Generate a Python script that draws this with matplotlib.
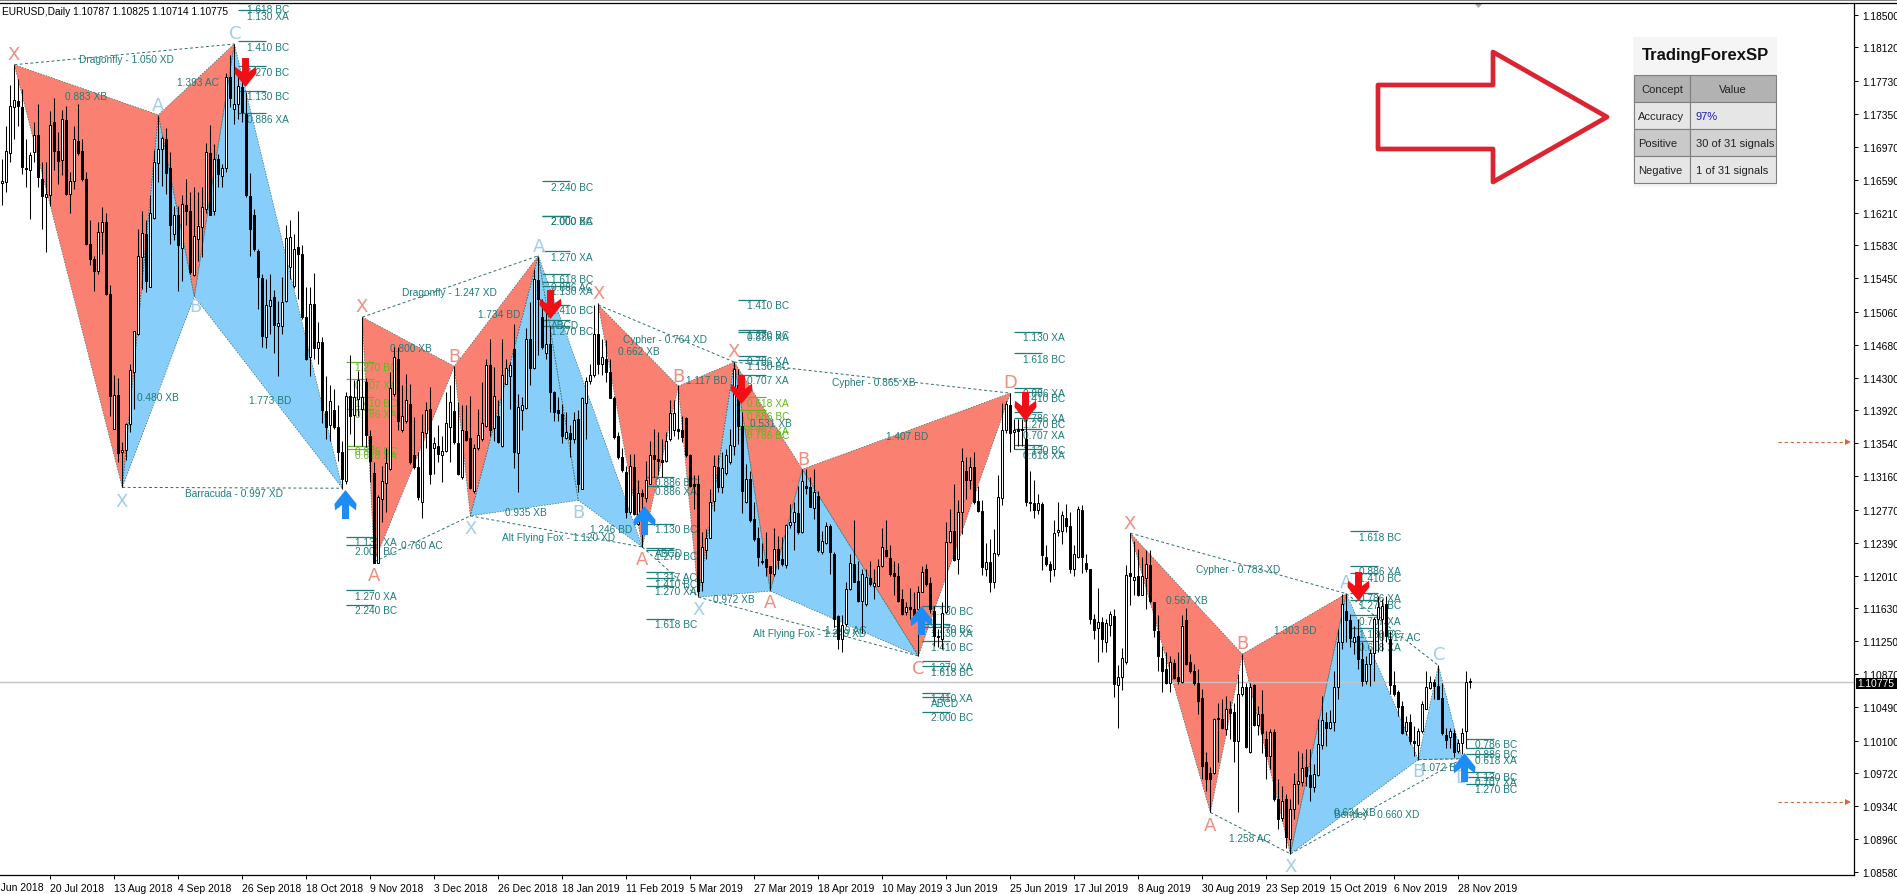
import matplotlib
matplotlib.use("Agg")
import matplotlib.pyplot as plt
from matplotlib.lines import Line2D
from matplotlib.patches import Polygon, Rectangle
from matplotlib.path import Path
from matplotlib.transforms import Affine2D

# ---------- candle values, in pips (price x 10000), one entry per daily bar ----------
open_pips = [
 11655,11656,11690,11743,11750,11743,11672,11670,11691,11711,11660,11639,11641,11726,11692,11682,11728,11643,11657,11704,11692,11660,11585,11567,11553,11598,11610,11527,11371,11410,11344,11346,11376,11437,11480,11570,11596,11535,11615,11678,11694,11706,11672,11596,11618,11580,11630,11623,11549,11590,11604,11625,11690,11623,11683,11663,11672,11778,11741,11747,11766,11735,
 11640,11618,11577,11545,11477,11513,11523,11490,11490,11519,11558,11536,11581,11573,11500,11454,11515,11464,11471,11391,11375,11392,11373,11344,11310,11409,11387,11405,11394,11425,11363,11320,11216,11289,11308,11324,11411,11452,11369,11380,11400,11340,11326,11286,11366,11394,11349,11351,11341,11345,11373,11391,11354,11315,11368,11360,11299,11348,
 11359,11374,11445,11372,11386,11351,11423,11432,11463,11343,11392,11395,11475,11441,11543,11500,11458,11469,11413,11393,11388,11360,11366,11359,11382,11301,11401,11426,11433,11480,11446,11452,11436,11406,11363,11338,11321,11274,11326,11261,11296,11291,11307,11340,11336,11335,11334,11359,11369,11371,11369,11383,11340,11307,11307,11193,11231,11244,11287,11327,
 11303,11320,11332,11351,11421,11374,11286,11313,11266,11244,11218,11220,11212,11203,11232,11220,11213,11260,11263,11273,11251,11305,11303,11279,11293,11228,11239,11258,11226,11154,11128,11145,11185,11214,11195,11171,11168,11198,11189,11189,11212,11231,11221,11204,11201,11174,11159,11165,11162,11162,11182,11209,11192,11160,11131,11128,11159,11240,11252,11220,
 11275,11322,11311,11326,11287,11276,11209,11217,11193,11226,11291,11369,11398,11367,11370,11371,11359,11286,11285,11277,11284,11222,11214,11208,11251,11253,11268,11258,11209,11223,11277,11215,11209,11151,11140,11147,11124,11144,11154,11074,11084,11101,11204,11196,11200,11179,11198,11213,11170,11137,11106,11093,11077,11100,11084,11078,11150,11101,11091,11077,
 11059,10985,10973,10972,11036,11035,11023,11047,11043,11010,11064,11072,10997,11074,11028,11041,11012,10992,11020,10942,10920,10942,10896,10931,10960,10962,10980,10970,10956,10970,11005,11031,11025,11032,11072,11124,11160,11149,11124,11131,11104,11079,11099,11111,11151,11151,11168,11127,11074,11066,11050,11021,11032,11009,11005,11021,11046,11071,11078,11073,11059,11016,11014,11019,10998,11007,11021,11079]
high_pips = [
 11683,11721,11769,11792,11775,11764,11706,11691,11726,11746,11679,11679,11739,11753,11714,11740,11744,11668,11721,11747,11706,11668,11612,11571,11610,11627,11620,11537,11433,11429,11355,11377,11446,11484,11602,11623,11612,11641,11693,11733,11710,11719,11691,11629,11629,11641,11660,11645,11650,11645,11650,11702,11722,11700,11689,11677,11783,11803,11816,11783,11785,11760,
 11667,11625,11579,11550,11544,11550,11531,11519,11546,11606,11612,11596,11623,11583,11535,11535,11551,11494,11477,11432,11421,11417,11398,11357,11413,11456,11427,11438,11500,11429,11369,11332,11294,11328,11348,11436,11465,11465,11421,11434,11423,11384,11344,11388,11402,11419,11361,11375,11363,11413,11421,11444,11402,11398,11398,11409,11353,11394,
 11425,11452,11475,11442,11404,11475,11452,11448,11492,11411,11408,11487,11517,11556,11570,11521,11508,11490,11414,11407,11400,11390,11375,11390,11392,11408,11431,11446,11514,11516,11475,11473,11452,11409,11367,11348,11328,11342,11342,11311,11301,11334,11357,11371,11367,11359,11367,11404,11404,11421,11386,11384,11342,11317,11317,11251,11255,11301,11340,11340,
 11344,11347,11371,11448,11440,11390,11330,11322,11286,11257,11239,11251,11212,11256,11247,11245,11261,11284,11286,11305,11324,11324,11315,11324,11299,11253,11263,11261,11228,11155,11155,11193,11226,11265,11218,11209,11209,11218,11209,11220,11256,11265,11236,11218,11216,11185,11170,11187,11182,11189,11212,11214,11199,11166,11139,11170,11263,11278,11307,11288,
 11349,11338,11338,11344,11305,11288,11239,11243,11255,11317,11401,11403,11412,11382,11382,11382,11382,11322,11312,11295,11286,11236,11218,11265,11286,11276,11284,11274,11236,11282,11283,11226,11209,11157,11187,11153,11151,11160,11162,11097,11117,11213,11250,11241,11232,11222,11230,11230,11170,11155,11120,11113,11108,11104,11113,11155,11164,11110,11099,11093,
 11070,10997,10979,11036,11054,11058,11062,11056,11054,11087,11110,11077,11077,11075,11050,11068,11021,11023,11023,10965,10958,10948,10942,10973,10998,10996,11000,11000,10983,11035,11062,11043,11045,11091,11139,11180,11180,11156,11143,11151,11124,11108,11116,11153,11177,11174,11177,11137,11091,11068,11056,11039,11041,11027,11025,11056,11090,11085,11081,11097,11077,11025,11025,11024,11012,11025,11090,11083]
low_pips = [
 11630,11645,11680,11706,11721,11665,11650,11613,11679,11650,11602,11575,11629,11670,11654,11664,11641,11620,11648,11687,11658,11583,11560,11530,11550,11573,11526,11386,11370,11332,11303,11335,11367,11394,11479,11533,11529,11535,11614,11656,11652,11643,11585,11589,11530,11542,11606,11550,11548,11565,11569,11621,11618,11618,11650,11650,11668,11743,11724,11729,11726,11639,
 11571,11577,11509,11465,11464,11481,11459,11432,11481,11517,11544,11534,11521,11498,11450,11432,11452,11446,11378,11359,11357,11371,11334,11301,11307,11365,11351,11386,11351,11350,11309,11216,11216,11263,11274,11323,11409,11369,11367,11378,11330,11324,11288,11267,11348,11307,11319,11332,11309,11344,11332,11353,11317,11313,11357,11301,11296,11346,
 11357,11373,11363,11357,11354,11350,11423,11394,11325,11298,11369,11394,11421,11440,11456,11463,11452,11390,11380,11380,11354,11359,11338,11354,11298,11301,11359,11423,11431,11434,11433,11425,11406,11359,11336,11321,11267,11272,11271,11259,11234,11286,11307,11315,11317,11315,11332,11357,11363,11359,11355,11338,11303,11278,11177,11183,11220,11244,11276,11298,
 11297,11317,11330,11340,11353,11273,11285,11263,11241,11212,11214,11201,11184,11201,11209,11212,11210,11256,11230,11249,11250,11295,11280,11266,11228,11226,11238,11203,11141,11116,11112,11143,11184,11193,11170,11135,11166,11189,11174,11189,11211,11222,11201,11178,11170,11155,11155,11151,11147,11108,11182,11189,11158,11120,11118,11116,11158,11239,11218,11203,
 11249,11289,11301,11284,11274,11202,11201,11182,11187,11224,11283,11366,11344,11347,11351,11351,11281,11276,11268,11272,11207,11212,11193,11201,11247,11238,11251,11204,11200,11221,11204,11205,11145,11127,11101,11112,11112,11131,11060,11025,11069,11099,11167,11178,11177,11178,11162,11169,11130,11091,11066,11076,11066,11081,11076,11077,11097,11088,11074,11041,
 10966,10952,10927,10971,10985,11023,11016,11012,10985,10927,11062,11002,10996,11027,11016,10996,10965,10977,10940,10908,10917,10886,10879,10919,10937,10958,10958,10940,10950,10969,11000,11004,11023,11021,11058,11116,11124,11118,11110,11093,11073,11075,11073,11079,11112,11114,11124,11064,11062,11039,11018,11016,11006,10992,10988,11019,11046,11070,11058,11058,11016,11002,11002,10991,10996,10994,11002,11071]
close_pips = [
 11657,11692,11744,11751,11744,11674,11671,11687,11711,11662,11640,11643,11722,11692,11681,11729,11643,11658,11706,11690,11660,11585,11567,11553,11599,11610,11527,11409,11410,11343,11346,11376,11439,11484,11571,11597,11542,11621,11679,11695,11707,11667,11606,11618,11583,11631,11623,11552,11594,11605,11627,11691,11618,11683,11666,11673,11778,11753,11747,11767,11737,11641,
 11602,11579,11546,11478,11514,11520,11491,11493,11518,11592,11593,11579,11573,11500,11451,11515,11464,11471,11392,11373,11403,11373,11344,11313,11409,11386,11407,11427,11407,11364,11334,11216,11292,11310,11331,11418,11454,11380,11385,11404,11332,11326,11292,11367,11393,11319,11354,11342,11345,11378,11402,11355,11318,11369,11358,11302,11348,11364,
 11377,11445,11369,11409,11355,11433,11441,11445,11344,11396,11398,11475,11441,11544,11521,11465,11469,11413,11390,11389,11363,11367,11359,11381,11307,11406,11426,11433,11480,11446,11454,11436,11406,11361,11338,11323,11274,11328,11272,11296,11293,11311,11340,11336,11333,11332,11357,11389,11389,11368,11361,11340,11305,11305,11183,11234,11244,11286,11328,11303,
 11325,11340,11352,11440,11374,11299,11313,11265,11243,11222,11217,11211,11204,11232,11219,11214,11259,11263,11274,11251,11310,11302,11280,11298,11230,11241,11258,11228,11151,11128,11144,11185,11216,11194,11171,11203,11199,11191,11192,11212,11234,11224,11203,11201,11172,11157,11165,11162,11155,11182,11205,11191,11162,11131,11130,11158,11240,11252,11219,11275,
 11333,11311,11326,11286,11276,11211,11217,11194,11227,11292,11369,11400,11366,11369,11368,11369,11286,11285,11277,11285,11225,11214,11207,11250,11254,11271,11258,11209,11226,11278,11222,11209,11151,11138,11147,11128,11146,11156,11076,11084,11105,11202,11201,11199,11179,11201,11214,11171,11138,11108,11090,11077,11101,11083,11079,11143,11099,11090,11077,11056,
 10981,10966,10965,11035,11035,11025,11046,11042,11010,11064,11072,11003,11072,11028,11041,11019,10992,11020,10942,10919,10940,10898,10931,10960,10963,10978,10969,10956,10971,11006,11034,11025,11032,11072,11124,11168,11149,11129,11130,11104,11079,11099,11111,11151,11165,11166,11131,11074,11064,11049,11019,11032,11009,11007,11021,11052,11072,11078,11073,11058,11019,11011,11021,10997,11007,11019,11078,11078]

# ---------- axis labels ----------
price_ticks = [1.18500,1.18120,1.17730,1.17350,1.16970,1.16590,1.16210,1.15830,1.15450,1.15060,
               1.14680,1.14300,1.13920,1.13540,1.13160,1.12770,1.12390,1.12010,1.11630,1.11250,
               1.10870,1.10490,1.10100,1.09720,1.09340,1.08960,1.08580]
date_bars = [12,28,44,60,76,92,108,124,140,156,172,188,204,220,236,252,268,284,300,316,332,348,364]
date_labels = ["20 Jul 2018","13 Aug 2018","4 Sep 2018","26 Sep 2018","18 Oct 2018","9 Nov 2018","3 Dec 2018",
               "26 Dec 2018","18 Jan 2019","11 Feb 2019","5 Mar 2019","27 Mar 2019","18 Apr 2019","10 May 2019",
               "3 Jun 2019","25 Jun 2019","17 Jul 2019","8 Aug 2019","30 Aug 2019","23 Sep 2019","15 Oct 2019",
               "6 Nov 2019","28 Nov 2019"]
first_date_bar = -4
first_date_label = "28 Jun 2018"
current_price = 1.10775
title_text = "EURUSD,Daily 1.10787 1.10825 1.10714 1.10775"

# ---------- harmonic pattern pivots ----------
pivot_bars = [3,39,30,48,58,85,90,93,113,134,117,144,149,160,169,183,174,192,200,229,252,282,302,310,322,336,354,359,365]
pivot_pips = [11792,11734,11303,11524,11816,11302,11500,11217,11443,11571,11270,11288,11514,11234,11420,11448,11176,11183,11324,11108,11412,11250,10927,11110,10879,11180,10988,11097,10989]
red_triangles = [(3,39,30),(39,48,58),(90,113,93),(113,117,134),(149,169,160),(169,183,174),(183,192,200),(200,229,252),(282,310,302),(310,336,322)]
blue_triangles = [(30,39,48),(48,58,85),(117,134,144),(134,144,160),(174,183,192),(192,200,229),(322,336,354),(354,359,365)]
dashed_links = [(3,58),(30,85),(90,134),(93,117),(117,160),(149,183),(160,174),(183,252),(174,229),(282,336),(302,322),(322,365),(336,359),(354,365)]

# ---------- Fibonacci level clusters: start bar, level prices (pips), texts ----------
fib_starts = [59,135,86,161,184,230,253,337,366]
fib_pips = [
 [11863,11855,11819,11790,11762,11736],
 [11657,11617,11617,11576,11550,11541,11536,11514,11497,11490],
 [11448,11428,11407,11394,11351,11347,11246,11236,11184,11167],
 [11315,11305,11261,11233,11230,11205,11198,11189,11151],
 [11520,11485,11483,11455,11450,11433,11407,11392,11374,11370],
 [11166,11145,11141,11125,11102,11096,11065,11060,11043],
 [11483,11458,11418,11413,11390,11383,11370,11352,11347],
 [11252,11212,11204,11181,11173,11155,11140,11125],
 [11012,11001,10994,10974,10968,10960]]
fib_texts = [
 ["1.618 BC","1.130 XA","1.410 BC","1.270 BC","1.130 BC","0.886 XA"],
 ["2.240 BC","2.000 BC","2.000 XA","1.270 XA","1.618 BC","0.886 AC","1.130 XA","1.410 BC","ABCD","1.270 BC"],
 ["1.270 BC","0.707 XA","1.410 BC","0.786 XA","0.886 BC","0.618 XA","1.130 XA","2.000 BC","1.270 XA","2.240 BC"],
 ["0.886 BC","0.886 XA","1.130 BC","ABCD","1.270 BC","1.317 AC","1.410 BC","1.270 XA","1.618 BC"],
 ["1.410 BC","1.270 BC","0.886 XA","0.786 XA","1.130 BC","0.707 XA","0.618 XA","0.886 BC","0.707 XA","0.786 BC"],
 ["1.130 BC","1.270 BC","1.130 XA","1.410 BC","1.270 XA","1.618 BC","1.410 XA","ABCD","2.000 BC"],
 ["1.130 XA","1.618 BC","0.886 XA","1.410 BC","0.786 XA","1.270 BC","0.707 XA","1.130 BC","0.618 XA"],
 ["1.618 BC","0.886 XA","1.410 BC","0.786 XA","1.270 BC","0.707 XA","1.130 BC","0.618 XA"],
 ["0.786 BC","0.886 BC","0.618 XA","1.130 BC","0.707 XA","1.270 BC"]]
green_levels = {(86,11448),(86,11428),(86,11407),(86,11394),(86,11351),(86,11347),
                (184,11407),(184,11392),(184,11374),(184,11370)}

# ---------- free labels ----------
note_bars = [31.0,21.0,48.9,38.9,66.9,57.9,111.9,102.1,124.2,104.9,131.0,139.0,152.2,165.7,159.2,176.2,217.9,226.2,192.2,182.9,201.9,210.9,308.9,296.2,323.2,311.9,349.4,338.2,343.7,359.9]
note_pips = [11799,11756,11772,11408,11404,11296,11529,11464,11504,11236,11274,11246,11255,11475,11461,11427,11425,11362,11377,11174,11134,11138,11209,11173,11138,10897,11130,10927,10925,10979]
note_texts = ["Dragonfly - 1.050 XD","0.883 XB","1.393 AC","0.480 XB","1.773 BD","Barracuda - 0.997 XD","Dragonfly - 1.247 XD","0.800 XB","1.734 BD","0.760 AC","0.935 XB","Alt Flying Fox - 1.120 XD","1.246 BD","Cypher - 0.764 XD","0.662 XB","1.117 BD","Cypher - 0.865 XB","1.407 BD","0.531 XB","0.972 XB","Alt Flying Fox - 1.249 XD","1.249 AC","Cypher - 0.783 XD","0.567 XB","1.303 BD","1.258 AC","0.617 AC","0.634 XB","Bentley - 0.660 XD","1.072 BC"]

red_letter_texts = list("XXABXABXABCDXAB")
red_letter_bars = [2.9,89.9,92.9,112.9,149.2,159.9,168.9,182.9,191.9,200.2,229.1,251.9,281.9,301.9,309.9]
red_letter_pips = [11804,11513,11202,11455,11528,11220,11432,11461,11170,11336,11094,11425,11262,10912,11123]
blue_letter_texts = list("ABCXAXBXAXBCD")
blue_letter_bars = [38.9,48.2,58.2,29.9,134.2,117.2,143.9,174.2,335.9,322.0,354.0,359.2,364.9]
blue_letter_pips = [11745,11513,11829,11287,11582,11256,11274,11162,11193,10865,10975,11110,10968]

sell_arrow_bars = [60.7,137.0,184.7,255.7,338.8]
sell_arrow_pips = [11784,11515,11417,11397,11189]
buy_arrow_bars = [85.7,160.4,229.7,365.5]
buy_arrow_pips = [11284,11265,11149,10979]
alert_pips = [11355,10939]

table_title = "TradingForexSP"
table_concepts = ["Concept","Accuracy","Positive","Negative"]
table_values = ["Value","97%","30 of 31 signals","1 of 31 signals"]

assert len(open_pips)==len(high_pips)==len(low_pips)==len(close_pips)==368

# ---------- figure ----------
W, H = 1897, 895
FONT = "Liberation Sans"
TEAL = "#1e7d7b"
GREEN = "#63b820"
plt.rcParams["font.family"] = FONT
fig = plt.figure(figsize=(W/100, H/100), dpi=100, facecolor="white")
ax = fig.add_axes([0, (H-876)/H, 1854/W, (876-3.5)/H])
ax.set_xlim(-0.5825, 462.92)
ax.set_ylim(1.08545, 1.18640)
px = Affine2D().scale(1, -1).translate(0, H)

for s in ["left", "top"]:
    ax.spines[s].set_visible(False)
for s in ["right", "bottom"]:
    ax.spines[s].set_linewidth(0.9)

ax.yaxis.tick_right()
ax.set_yticks(price_ticks, [f"{v:.5f}" for v in price_ticks], fontsize=7.4)
ax.set_xticks(date_bars, date_labels, fontsize=7.5, ha="left")
ax.tick_params(axis="both", length=3, width=0.7, pad=3, color="black")
ax.text(first_date_bar, -0.0075, first_date_label, transform=ax.get_xaxis_transform(),
        fontsize=7.5, ha="left", va="top", clip_on=False)

lookup = dict(zip(pivot_bars, pivot_pips))
def pts(bars):
    return [(b, lookup[b]/1e4) for b in bars]

for tri in red_triangles:
    ax.add_patch(Polygon(pts(tri), closed=True, fc="#FA8072", ec="none", zorder=1))
for tri in blue_triangles:
    ax.add_patch(Polygon(pts(tri), closed=True, fc="#87CEFA", ec="none", zorder=1))
for tri in red_triangles + blue_triangles:
    p = pts(tri) + pts(tri[:1])
    ax.plot(*zip(*p), color="#2f6c6c", lw=0.5, ls=(0, (2, 2)), zorder=1.5)
for a, b in dashed_links:
    ax.plot(*zip(*pts((a, b))), color="#2b7070", lw=0.7, ls=(0, (3, 2.5)), zorder=1.6)

# price line
ax.axhline(current_price, color="#c4c4c4", lw=1.0, zorder=1.8)

# fib levels
for start, levels, texts in zip(fib_starts, fib_pips, fib_texts):
    for lv, t in zip(levels, texts):
        c = GREEN if (start, lv) in green_levels else TEAL
        ax.hlines(lv/1e4, start, start+7, color=c, lw=0.9, zorder=2)
        ax.annotate(t, (start, lv/1e4), xytext=(6.4, -3.9), textcoords="offset points",
                    va="center", ha="left", fontsize=7.3, color=c, zorder=2.1, annotation_clip=False)

for b, p, t in zip(note_bars, note_pips, note_texts):
    ax.text(b, p/1e4, t, ha="center", va="center", fontsize=7.3, color=TEAL, zorder=2.2)

for b, p, t in zip(red_letter_bars, red_letter_pips, red_letter_texts):
    ax.text(b, p/1e4, t, ha="center", va="center", fontsize=13, color="#F08E82",
            family="DejaVu Sans", zorder=2.3, clip_on=True)
for b, p, t in zip(blue_letter_bars, blue_letter_pips, blue_letter_texts):
    ax.text(b, p/1e4, t, ha="center", va="center", fontsize=13, color="#A3CDEA",
            family="DejaVu Sans", zorder=2.3, clip_on=True)

# candles
bars = list(range(len(open_pips)))
ax.vlines(bars, [v/1e4 for v in low_pips], [v/1e4 for v in high_pips], color="black", lw=0.75, zorder=3)
for i, o, c in zip(bars, open_pips, close_pips):
    lo, hi = min(o, c)/1e4, max(o, c)/1e4
    ax.add_patch(Rectangle((i-0.25, lo), 0.5, hi-lo, fc="white" if c > o else "black",
                           ec="black", lw=0.72, zorder=3.1))

# signal arrows
down = [(-.12,.5),(.12,.5),(.12,.02),(.36,.2),(.38,-.02),(0,-.5),(-.38,-.02),(-.36,.2),(-.12,.02),(-.12,.5)]
up = [(x, -y) for x, y in down]
size = (29*0.72)**2
ax.scatter(sell_arrow_bars, [v/1e4 for v in sell_arrow_pips], marker=Path(down, closed=True), s=size,
           color="#F00F14", linewidths=0, zorder=4)
ax.scatter(buy_arrow_bars, [v/1e4 for v in buy_arrow_pips], marker=Path(up, closed=True), s=size,
           color="#1E8CF5", linewidths=0, zorder=4)

# price alert arrows at the right
for p in alert_pips:
    ax.hlines(p/1e4, 444, 461, color="#D2693C", lw=0.8, ls=(0, (3, 2.5)), zorder=2)
    ax.plot([461.3], [p/1e4], marker=">", ms=4, color="#D2693C", mew=0, zorder=2)

# ---------- decorations placed in picture pixels ----------
def add_text(x, y, s, **kw):
    kw.setdefault("family", FONT)
    fig.add_artist(plt.Text(x, y, s, transform=px, va="center", **kw))

fig.add_artist(Line2D([0, W], [1, 1], transform=px, color="#808080", lw=0.8))
fig.add_artist(Line2D([0, W], [3.5, 3.5], transform=px, color="black", lw=0.9))
fig.add_artist(Polygon([(1474, 4), (1483, 4), (1478.5, 9)], closed=True, transform=px, fc="#aaaaaa", ec="none"))
add_text(2, 11.7, title_text, fontsize=7.3, ha="left", color="black")

big_arrow = [(1378, 86), (1493, 86), (1493, 53), (1607, 118), (1493, 183), (1493, 150), (1378, 150)]
fig.add_artist(Polygon(big_arrow, closed=True, transform=px, fc="none", ec="#DC2330", lw=3.4, joinstyle="round"))

tx0, tx1, tx2 = 1634.4, 1689.7, 1776
fig.add_artist(Rectangle((tx0-1, 38), tx2-tx0+2, 150, transform=px, fc="#F5F5F5", ec="none"))
add_text((tx0+tx2)/2, 56, table_title, fontsize=12, fontweight="bold", ha="center", color="#111111")
row_y = [76.3, 103.3, 130.3, 157.3, 184.3]
row_fill = [("#B2B2B2", "#B2B2B2"), ("#E6E6E6", "#E6E6E6"), ("#C9C9C9", "#D2D2D2"), ("#E6E6E6", "#E6E6E6")]
for r in range(4):
    y0, y1 = row_y[r], row_y[r+1]
    for (xa, xb), fc in zip([(tx0, tx1), (tx1, tx2)], row_fill[r]):
        fig.add_artist(Rectangle((xa, y0), xb-xa, y1-y0, transform=px, fc=fc, ec="#7f7f7f", lw=0.8))
    ym = (y0+y1)/2
    if r == 0:
        add_text((tx0+tx1)/2, ym, table_concepts[r], fontsize=8, ha="center", color="#222222")
        add_text((tx1+tx2)/2, ym, table_values[r], fontsize=8, ha="center", color="#222222")
    else:
        add_text(tx0+4, ym, table_concepts[r], fontsize=8, ha="left", color="#222222")
        add_text(tx1+6, ym, table_values[r], fontsize=8, ha="left", color="#1a1ab4" if r == 1 else "#222222")

# current price box
fig.add_artist(Rectangle((1855.5, 679), 41.5, 10.5, transform=px, fc="black", ec="none", zorder=10))
add_text(1876, 684.3, f"{current_price:.5f}", fontsize=7.4, color="white", ha="center", zorder=11)

fig.savefig("out.png", dpi=100, facecolor="white")
